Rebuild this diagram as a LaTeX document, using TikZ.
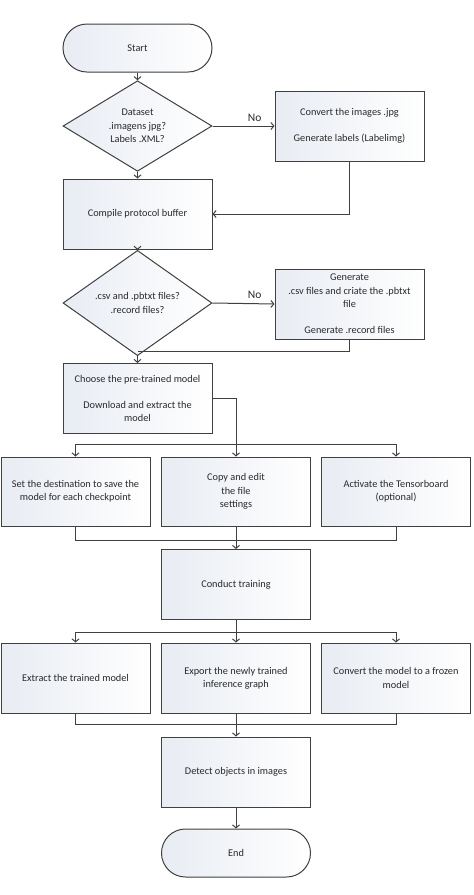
\documentclass[tikz,border=0pt]{standalone}
\usepackage{fontspec}
\setmainfont{Carlito}
\usetikzlibrary{shapes.geometric,arrows.meta}

\definecolor{linegray}{HTML}{404040}
\definecolor{textgray}{HTML}{2A2A2A}
\definecolor{shadeblue}{HTML}{E8ECF3}

\tikzset{
  every node/.style={font=\fontsize{10.3}{13.3}\selectfont, text=textgray},
  boxstyle/.style={draw=linegray, line width=1pt, rectangle, align=center,
    left color=shadeblue, right color=white, inner sep=2pt},
  procbox/.style={boxstyle, minimum width=149pt, minimum height=70pt},
  termbox/.style={boxstyle, rounded corners=24pt, minimum width=149pt, minimum height=48pt},
  decbox/.style={boxstyle, diamond, minimum width=149pt, minimum height=79pt, inner sep=0pt},
  line/.style={draw=linegray, line width=1pt},
  arr/.style={line, -{Straight Barb[length=3pt,width=7pt]}},
}

\begin{document}
\begin{tikzpicture}[x=1pt, y=-1pt]
  \useasboundingbox (0,0) rectangle (474,895);

  % main column
  \node[termbox] (start) at (137.5,48) {Start};
  \node[decbox] (dataset) at (137.5,126) {Dataset\\.imagens jpg?\\Labels .XML?};
  \node[procbox] (convert) at (349.5,126) {Convert the images .jpg\\[13.3pt]Generate labels (Labelimg)};
  \node[procbox] (compile) at (137.5,214) {Compile protocol buffer};
  \node[decbox] (files) at (137.5,303) {.csv and .pbtxt files?\\.record files?};
  \node[procbox] (generate) at (349.5,304) {Generate\\.csv files and criate the .pbtxt\\file\\[13.3pt]Generate .record files};
  \node[procbox] (choose) at (137.5,398.5) {Choose the pre-trained model\\[13.3pt]Download and extract the\\model};

  % first row of three
  \node[procbox, minimum height=69pt] (destination) at (75.5,491.5) {Set the destination to save the\\model for each checkpoint};
  \node[procbox, minimum height=69pt] (settings) at (236,491.5) {Copy and edit\\the file\\settings};
  \node[procbox, minimum height=69pt] (tensorboard) at (396,491.5) {Activate the Tensorboard\\(optional)};

  \node[procbox] (training) at (236,584.5) {Conduct training};

  % second row of three
  \node[procbox] (extract) at (75.5,678) {Extract the trained model};
  \node[procbox] (export) at (236,678) {Export the newly trained\\inference graph};
  \node[procbox] (frozen) at (396,678) {Convert the model to a frozen\\model};

  \node[procbox] (detect) at (236,772) {Detect objects in images};
  \node[termbox] (end) at (236,853) {End};

  % junction points
  \coordinate (join1) at (137.5,351);
  \coordinate (split1) at (236,444);
  \coordinate (join2) at (236,540);
  \coordinate (split2) at (236,632);
  \coordinate (join3) at (236,724);

  % connectors
  \draw[arr] (start) -- (dataset);
  \draw[arr] (dataset.east) -- node[pos=0.68, above=1pt, font=\fontsize{11.5}{13}\selectfont] {No} (convert.west);
  \draw[arr] (convert.south) |- (compile.east);
  \draw[arr] (dataset.south) -- (compile.north);
  \draw[arr] (compile.south) -- (files.north);
  \draw[arr] (files.east) -- node[pos=0.68, above=1pt, font=\fontsize{11.5}{13}\selectfont] {No} (generate.west);
  \draw[line] (generate.south) |- (join1);
  \draw[arr] (files.south) -- (choose.north);

  \draw[line] (choose.east) -| (split1);
  \foreach \n in {destination,settings,tensorboard}
    \draw[arr] (split1) -| (\n.north);

  \foreach \n in {destination,tensorboard}
    \draw[line] (\n.south) |- (join2);
  \draw[arr] (settings.south) -- (training.north);

  \draw[line] (training.south) -- (split2);
  \foreach \n in {extract,export,frozen}
    \draw[arr] (split2) -| (\n.north);

  \foreach \n in {extract,frozen}
    \draw[line] (\n.south) |- (join3);
  \draw[arr] (export.south) -- (detect.north);
  \draw[arr] (detect) -- (end);
\end{tikzpicture}
\end{document}
